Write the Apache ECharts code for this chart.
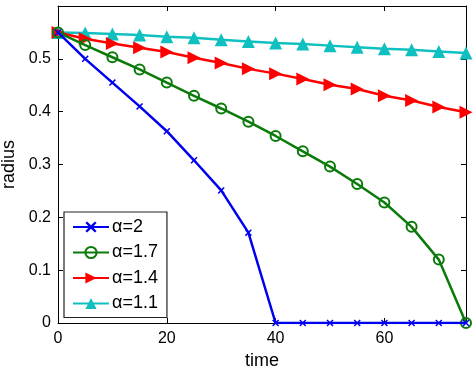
<!DOCTYPE html>
<html><head><meta charset="utf-8">
<script src="https://cdn.jsdelivr.net/npm/echarts@6/dist/echarts.min.js"></script>
<style>html,body{margin:0;padding:0;background:#fff}#c{width:474px;height:372px}</style>
</head><body><div id="c"></div>
<script>
const times = [0,5,10,15,20,25,30,35,40,45,50,55,60,65,70,75];
const seriesNames = ['α=2','α=1.7','α=1.4','α=1.1'];
const alpha20 = [0.55,0.50,0.455,0.41,0.363,0.308,0.251,0.171,0,0,0,0,0,0,0,0];
const alpha17 = [0.55,0.526,0.503,0.48,0.455,0.43,0.406,0.381,0.354,0.325,0.296,0.263,0.228,0.182,0.12,0];
const alpha14 = [0.55,0.538,0.529,0.521,0.513,0.502,0.492,0.481,0.472,0.462,0.451,0.443,0.430,0.421,0.409,0.399];
const alpha11 = [0.55,0.549,0.547,0.545,0.542,0.540,0.536,0.533,0.530,0.528,0.525,0.522,0.519,0.517,0.514,0.511];
const xTicks = [0,20,40,60];
const yTicks = [0,0.1,0.2,0.3,0.4,0.5];

const font = 'Liberation Sans, Arial, Helvetica, sans-serif';
const pair = (arr) => times.map((t,i)=>[t,arr[i]]);
const xPath = 'path://M0,1.5L1.5,0L5,3.5L8.5,0L10,1.5L6.5,5L10,8.5L8.5,10L5,6.5L1.5,10L0,8.5L3.5,5Z';

const chart = echarts.init(document.getElementById('c'));
const baseX = {type:'value', min:0, max:75, interval:20,
  axisLine:{show:true, onZero:false, lineStyle:{color:'#000', width:1}},
  splitLine:{show:false}};
const baseY = {type:'value', min:0, max:0.6, interval:0.1,
  axisLine:{show:true, onZero:false, lineStyle:{color:'#000', width:1}},
  splitLine:{show:false}};
chart.setOption({
  animation:false,
  backgroundColor:'#fff',
  grid:{left:58, right:8, top:6, bottom:49, containLabel:false, outerBoundsMode:'none'},
  xAxis:[
    Object.assign({}, baseX, {position:'bottom', name:'time', nameLocation:'middle', nameGap:29,
      nameTextStyle:{fontFamily:font, fontSize:18, color:'#000'},
      axisTick:{inside:true, length:5, lineStyle:{color:'#000'}},
      axisLabel:{fontFamily:font, fontSize:16, color:'#000', margin:8, showMaxLabel:false,
        formatter:v => xTicks.includes(v) ? String(v) : ''}}),
    Object.assign({}, baseX, {position:'top',
      axisTick:{inside:true, length:5, lineStyle:{color:'#000'}},
      axisLabel:{show:false}})
  ],
  yAxis:[
    Object.assign({}, baseY, {position:'left', name:'radius', nameLocation:'middle', nameGap:36,
      nameTextStyle:{fontFamily:font, fontSize:18, color:'#000'},
      axisTick:{inside:true, length:5, lineStyle:{color:'#000'}},
      axisLabel:{fontFamily:font, fontSize:16, color:'#000', margin:7,
        formatter:v => { const r = Math.round(v*10)/10; return yTicks.some(t=>Math.abs(t-r)<1e-9) ? (r===0?'0':r.toFixed(1)) : ''; }}}),
    Object.assign({}, baseY, {position:'right',
      axisTick:{inside:true, length:5, lineStyle:{color:'#000'}},
      axisLabel:{show:false}})
  ],
  legend:{
    orient:'vertical', left:64, top:212,
    padding:[6,9,5,8], itemGap:7.5, itemWidth:36, itemHeight:14,
    backgroundColor:'#fff', borderColor:'#222', borderWidth:1.2,
    textStyle:{fontFamily:font, fontSize:18, color:'#000', padding:[0,0,0,-2]},
    data:seriesNames
  },
  series:[
    {name:seriesNames[0], type:'line', data:pair(alpha20), symbol:xPath, symbolSize:7,
      lineStyle:{color:'#0000f0', width:2.5}, itemStyle:{color:'#0000f0'}, z:5},
    {name:seriesNames[1], type:'line', data:pair(alpha17), symbol:'circle', symbolSize:10,
      lineStyle:{color:'#0a7a0a', width:2.5}, itemStyle:{color:'rgba(255,255,255,0)', borderColor:'#0a7a0a', borderWidth:2}, z:4},
    {name:seriesNames[2], type:'line', data:pair(alpha14), symbol:'triangle', symbolRotate:-90, symbolSize:13,
      lineStyle:{color:'#ff0000', width:2.5}, itemStyle:{color:'#ff0000'}, z:3},
    {name:seriesNames[3], type:'line', data:pair(alpha11), symbol:'triangle', symbolSize:13,
      lineStyle:{color:'#10c0c0', width:2.5}, itemStyle:{color:'#10c0c0'}, z:2}
  ]
});
</script></body></html>
